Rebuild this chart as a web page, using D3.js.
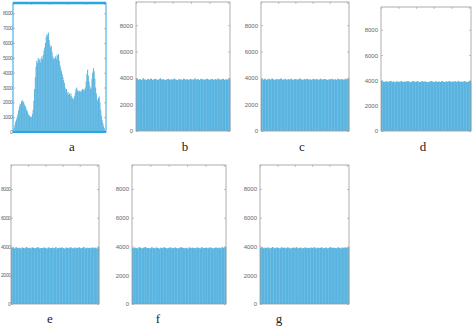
<!DOCTYPE html>
<html><head><meta charset="utf-8">
<script src="https://cdn.jsdelivr.net/npm/d3@7"></script>
<style>body{margin:0;background:#fff}svg{display:block}</style>
</head><body><svg id="c" width="474" height="330"></svg>
<script>
const panelNames = ["a","b","c","d","e","f","g"];
const histA = [100,300,500,700,850,1000,1200,1450,1700,1900,1850,2050,2150,2000,2050,1850,1750,1650,1500,1400,1250,1150,1100,1000,1050,1000,1200,1500,2100,2900,3700,4400,4800,4650,5000,4800,4900,4700,4950,5100,4900,5200,5500,5700,6000,6400,6600,6500,6700,6200,5900,5700,5800,5400,5100,4900,5000,4950,5100,4900,5200,5100,5250,4800,4500,4300,4100,3900,3700,3500,3300,3000,2800,2900,2600,2700,2500,2600,2450,2600,2400,2300,2250,2200,2400,2650,2900,3000,2800,2700,2800,2750,2700,2800,2750,2900,2800,2900,2800,3000,3400,3900,4200,3800,3400,3100,2900,3000,3600,4000,4300,4100,3600,3000,2600,2200,2100,2300,2400,2000,1500,1100,800,600,400,250,100,0];
const histB = [3950,3880,3920,3860,3970,3900,3850,3930,3890,3960,3870,3910,3940,3860,3900,3980,3880,3920,3850,3900,3940,3870,3910,3890,3960,3880,3850,3920,3900,3870,3950,3890,3910,3860,3930,3900,3880,3970,3890,3920,3860,3940,3900,3880,3910,3950,3870,3900,3930,3860,3920,3890,3960,3880,3900,3940,3870,3910,3890,3950];
const histC = [3920,3890,3950,3870,3910,3940,3880,3960,3900,3860,3930,3890,3910,3970,3880,3900,3940,3860,3920,3890,3950,3870,3900,3930,3880,3910,3960,3890,3870,3920,3900,3950,3880,3910,3860,3940,3890,3920,3900,3870,3950,3880,3910,3930,3890,3860,3920,3900,3940,3880,3910,3870,3950,3890,3920,3900,3880,3940,3910,3960];
const histD = [3960,3900,3880,3940,3870,3920,3950,3890,3910,3860,3930,3900,3880,3950,3870,3910,3890,3940,3920,3860,3900,3950,3880,3910,3930,3870,3900,3940,3890,3920,3880,3860,3910,3950,3900,3870,3930,3890,3910,3880,3940,3900,3870,3920,3890,3950,3880,3910,3900,3930,3870,3960,3890,3910,3880,3940,3900,3870,3920,3950];
const histE = [3900,3940,3870,3950,3890,3910,3860,3930,3900,3880,3960,3890,3910,3870,3940,3900,3880,3920,3950,3870,3900,3890,3930,3910,3860,3940,3890,3900,3920,3880,3950,3870,3910,3900,3940,3890,3860,3920,3910,3880,3950,3900,3870,3930,3890,3910,3940,3880,3900,3960,3870,3920,3890,3910,3880,3940,3900,3920,3870,3950];
const histF = [3890,3930,3900,3870,3950,3910,3880,3920,3960,3890,3900,3870,3940,3910,3880,3930,3900,3860,3920,3890,3950,3900,3870,3910,3940,3880,3900,3930,3890,3870,3920,3950,3900,3880,3910,3860,3940,3890,3920,3900,3880,3930,3910,3870,3950,3890,3900,3920,3880,3940,3910,3870,3900,3930,3890,3920,3880,3950,3910,3970];
const histG = [3910,3950,3880,3920,3890,3940,3870,3900,3960,3880,3910,3930,3890,3870,3950,3900,3920,3880,3940,3910,3860,3900,3930,3890,3950,3880,3910,3920,3870,3900,3940,3890,3910,3880,3930,3900,3950,3870,3920,3890,3910,3940,3880,3900,3930,3870,3910,3960,3890,3920,3900,3880,3940,3910,3870,3930,3900,3950,3890,3960];
const histData = [histA,histB,histC,histD,histE,histF,histG];
const yMax = [8700,9750,9750,9800,9670,9670,9670];
const yTicksA = [0,1000,2000,3000,4000,5000,6000,7000,8000];
const yTicksOther = [0,2000,4000,6000,8000];
const xTicks = [0,50,100,150,200,250];
const xMax = 256;

// layout
const boxes = [
  {x0:13,x1:106,y0:3,y1:132},
  {x0:136,x1:230,y0:2,y1:131},
  {x0:261,x1:349,y0:2,y1:131},
  {x0:381,x1:471,y0:7,y1:131},
  {x0:11,x1:99,y0:165,y1:304},
  {x0:132,x1:226,y0:165,y1:304},
  {x0:260,x1:349,y0:165,y1:304}
];
const labelPos = [[72,151],[185,151],[302,151],[423,151],[50,323],[158,323],[279,323]];
const barColor = "#5ab4e0";
const svg = d3.select("#c");

histData.forEach((vals,k)=>{
  const b = boxes[k];
  const n = vals.length;
  const tight = b.x0 < 20;
  const x = d3.scaleLinear().domain([0,xMax]).range([b.x0,b.x1]);
  const y = d3.scaleLinear().domain([0,yMax[k]]).range([b.y1,b.y0]);
  const bw = xMax/n;
  const g = svg.append("g");
  g.selectAll("rect").data(vals).join("rect")
    .attr("x",(d,i)=>x(i*bw))
    .attr("width",(d,i)=>x((i+1)*bw)-x(i*bw)+0.3)
    .attr("y",d=>y(d))
    .attr("height",d=>b.y1-y(d))
    .attr("fill",barColor);
  const ticks = k===0 ? yTicksA : yTicksOther;
  const frameCol = k===0 ? "#2aa6e2" : "#9a9a9a";
  const yAx = d3.axisLeft(y).tickValues(ticks).tickSize(-2).tickPadding(tight?0.5:3).tickFormat(d3.format("d"));
  const ga = g.append("g").attr("transform",`translate(${b.x0},0)`).call(yAx);
  ga.select(".domain").remove();
  ga.selectAll("line").attr("stroke","#9a9a9a").attr("stroke-width",0.6);
  ga.selectAll("text").attr("font-family","Liberation Sans Narrow, Liberation Sans, sans-serif")
    .attr("font-size",tight?5:6).attr("letter-spacing",tight?-0.4:0).attr("fill","#666");
  const yAxR = d3.axisRight(y).tickValues(ticks).tickSize(-2).tickFormat("");
  const gr = g.append("g").attr("transform",`translate(${b.x1},0)`).call(yAxR);
  gr.select(".domain").remove();
  gr.selectAll("line").attr("stroke","#9a9a9a").attr("stroke-width",0.6);
  const xAxT = d3.axisTop(x).tickValues(xTicks).tickSize(-2).tickFormat("");
  const gt = g.append("g").attr("transform",`translate(0,${b.y0})`).call(xAxT);
  gt.select(".domain").remove();
  gt.selectAll("line").attr("stroke","#9a9a9a").attr("stroke-width",0.6);
  g.append("rect").attr("x",b.x0).attr("y",b.y0).attr("width",b.x1-b.x0).attr("height",b.y1-b.y0)
    .attr("fill","none").attr("stroke",frameCol).attr("stroke-width",k===0?1:0.8);
  if(k===0){
    g.append("line").attr("x1",b.x0).attr("x2",b.x1).attr("y1",b.y0).attr("y2",b.y0)
      .attr("stroke",frameCol).attr("stroke-width",2.5);
    g.append("line").attr("x1",b.x0).attr("x2",b.x1).attr("y1",b.y1).attr("y2",b.y1)
      .attr("stroke",frameCol).attr("stroke-width",2);
  }
  svg.append("text").attr("x",labelPos[k][0]).attr("y",labelPos[k][1])
    .attr("text-anchor","middle").attr("font-family","Liberation Serif, serif")
    .attr("font-size",13).attr("fill","#222").text(panelNames[k]);
});
</script></body></html>
